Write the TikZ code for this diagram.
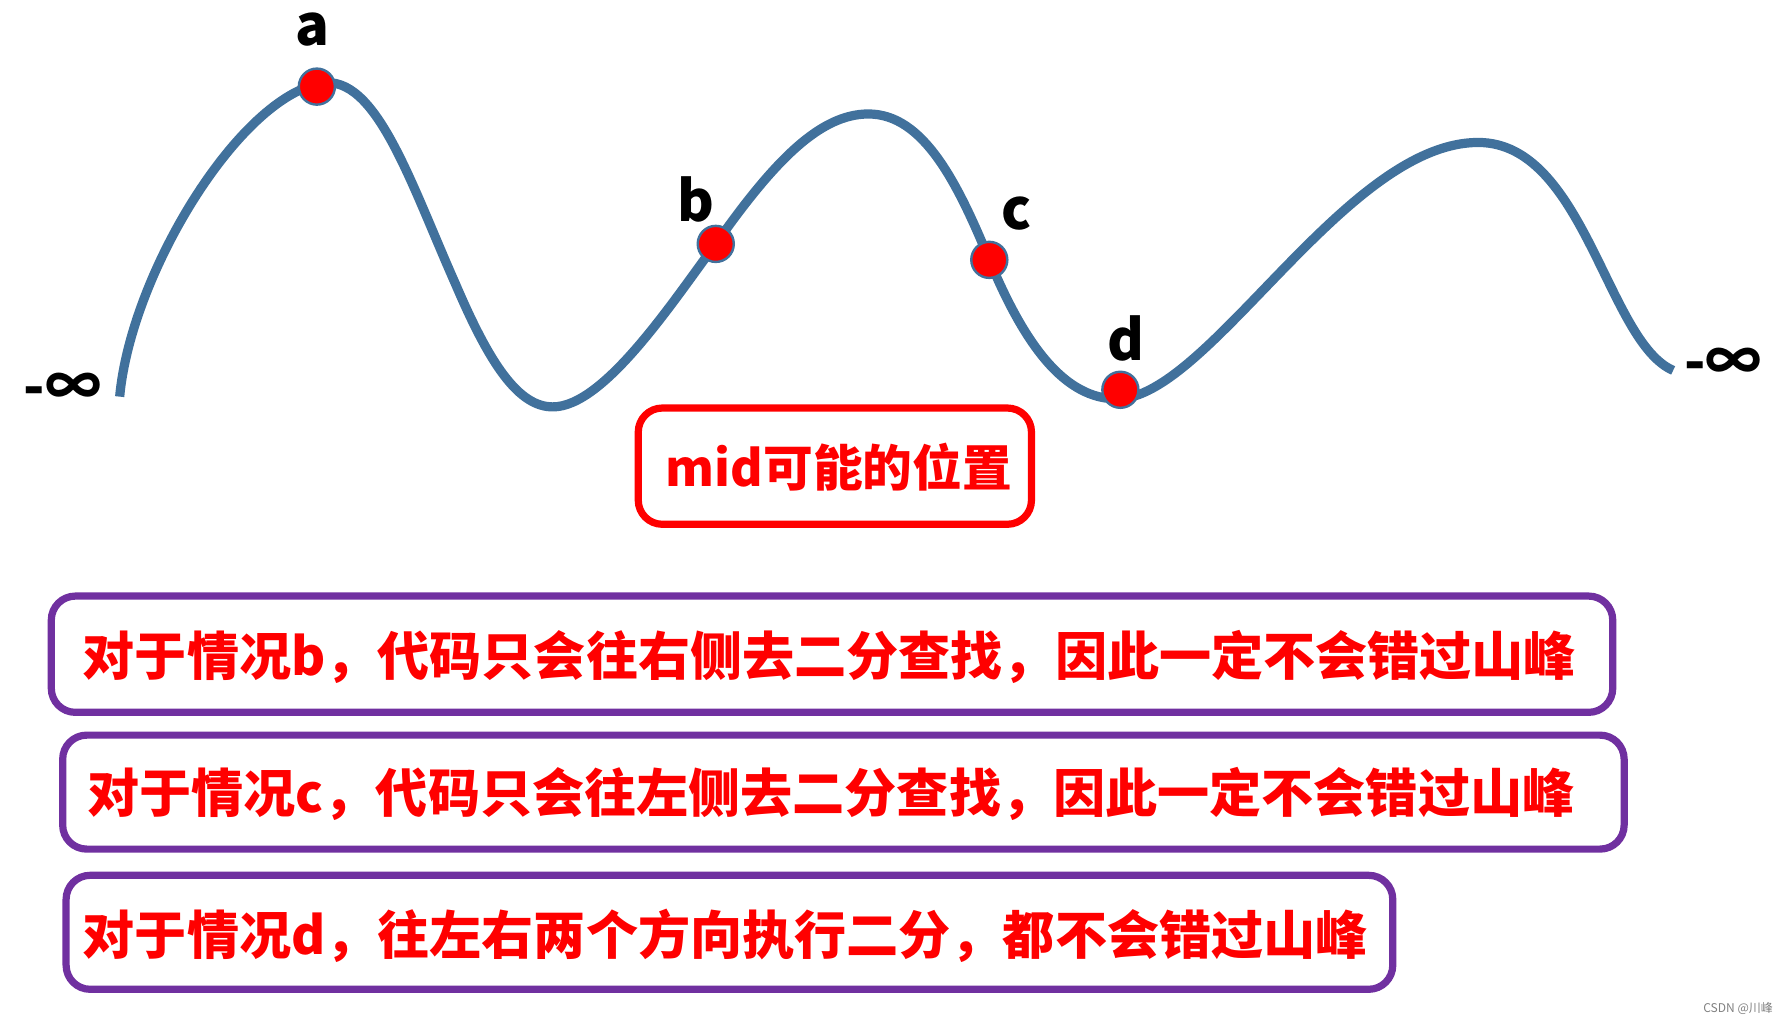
\documentclass[tikz,border=0pt]{standalone}
\usepackage{fontspec}
\newfontfamily\cjk{Noto Sans CJK SC}
\definecolor{curve}{HTML}{41719C}
\definecolor{pur}{HTML}{7030A0}
\tikzset{
 dot/.style={circle,fill=red,draw=curve,line width=0.6pt,minimum size=9pt,inner sep=0pt},
 lab/.style={font=\cjk\bfseries\fontsize{14}{14}\selectfont},
 redbox/.style={draw=red,line width=1.8pt,rounded corners=6pt},
 purbox/.style={draw=pur,line width=1.8pt,rounded corners=6pt},
 txt/.style={text=red,font=\cjk\bfseries\fontsize{13}{14}\selectfont,anchor=west,inner sep=0pt}
}
\begin{document}
\begin{tikzpicture}[x=0.01cm,y=-0.01cm]
\useasboundingbox (0,0) rectangle (1560,894);
\draw[curve,line width=2.3pt,line join=round] (105,348) .. controls (115,240) and (210,85) .. (282,73)
 .. controls (330,65) and (360,160) .. (400,250)
 .. controls (430,320) and (455,357) .. (485,357)
 .. controls (530,357) and (590,265) .. (628,214)
 .. controls (680,140) and (720,100) .. (762,100)
 .. controls (810,100) and (840,160) .. (868,228)
 .. controls (900,305) and (935,350) .. (980,350)
 .. controls (1060,350) and (1180,125) .. (1297,125)
 .. controls (1390,125) and (1410,300) .. (1468,325);
\node[dot] (a) at (278,76) {};
\node[dot] (b) at (628,214) {};
\node[dot] (c) at (868,228) {};
\node[dot] (d) at (983,342) {};
\node[lab] at (274,26) {a};
\node[lab] at (611,175) {b};
\node[lab] at (892,187) {c};
\node[lab] at (988,297) {d};
\node[lab] at (55,342) {-∞};
\node[lab] at (1512,320) {-∞};
\draw[redbox] (560,358) rectangle (905,460);
\node[text=red,font=\cjk\bfseries\fontsize{12.4}{14}\selectfont] (m) at (736,410) {mid可能的位置};
\draw[purbox] (45,523) rectangle (1415,625);
\node[txt] (t1) at (72,576) {对于情况b，代码只会往右侧去二分查找，因此一定不会错过山峰};
\draw[purbox] (55,645) rectangle (1425,745);
\node[txt] (t2) at (76,697) {对于情况c，代码只会往左侧去二分查找，因此一定不会错过山峰};
\draw[purbox] (58,768) rectangle (1222,868);
\node[txt] (t3) at (72,821) {对于情况d，往左右两个方向执行二分，都不会错过山峰};
\node[text=gray,font=\cjk\fontsize{3}{3}\selectfont] at (1525,885) {CSDN @川峰};
\end{tikzpicture}
\end{document}
